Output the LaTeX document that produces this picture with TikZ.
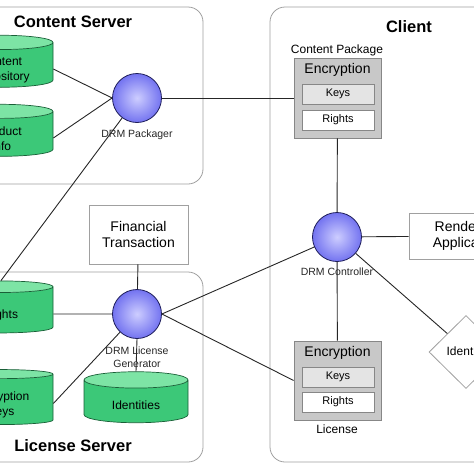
\documentclass[tikz,border=0pt]{standalone}
\usepackage{fontspec}
\setmainfont{Liberation Sans}
\usetikzlibrary{shapes.geometric,calc}
\definecolor{framegray}{RGB}{160,160,160}
\definecolor{dbbody}{RGB}{60,200,120}
\definecolor{dbtop}{RGB}{125,228,165}
\definecolor{dbedge}{RGB}{25,95,55}
\definecolor{procin}{RGB}{205,205,255}
\definecolor{procout}{RGB}{115,115,240}
\definecolor{procedge}{RGB}{30,30,90}
\definecolor{pkgfill}{RGB}{200,200,200}
\definecolor{pkgedge}{RGB}{135,135,135}
\definecolor{keyfill}{RGB}{228,228,228}
\tikzset{
server/.style={draw=framegray,line width=0.8pt,rounded corners=15pt},
title/.style={font=\fontsize{16.5}{18}\selectfont\bfseries},
database/.style={cylinder,shape border rotate=90,aspect=0.34,draw=dbedge,line width=0.7pt,
  cylinder uses custom fill,cylinder body fill=dbbody,cylinder end fill=dbtop,
  minimum width=104pt,minimum height=52pt,inner sep=0pt,align=center,
  font=\fontsize{12}{15}\selectfont},
dbtext/.style={align=center,font=\fontsize{12}{15}\selectfont,yshift=-5pt},
process/.style={circle,draw=procedge,line width=0.8pt,inner color=procin,outer color=procout,
  minimum size=49pt,inner sep=0pt},
lbl/.style={font=\fontsize{10.5}{13}\selectfont,align=center,text=black!85},
plain/.style={draw=framegray,line width=0.8pt,fill=white,align=center,
  font=\fontsize{14}{16}\selectfont,inner sep=0pt},
package/.style={draw=pkgedge,line width=0.8pt,fill=pkgfill,minimum width=87pt,minimum height=80pt},
field/.style={draw=pkgedge,line width=0.6pt,minimum width=72pt,minimum height=20pt,inner sep=0pt,
  font=\fontsize{11}{13}\selectfont},
link/.style={line width=0.9pt,draw=black!85},
}
\begin{document}
\begin{tikzpicture}[x=1pt,y=-1pt]
\useasboundingbox (0,0) rectangle (474,474);
\clip (0,0) rectangle (474,474);
% servers and client
\draw[server] (-40,7) rectangle (203,184);
\draw[server] (-40,272) rectangle (203,462);
\draw[server] (270,7) rectangle (520,462);
\node[title] (cstitle) at (73,22) {Content Server};
\node[title] (lstitle) at (73,446) {License Server};
\node[title] (cltitle) at (409,27) {Client};

% content server
\node[database,label={[dbtext]center:Content\\Repository}] (repo) at (1,65) {\phantom{Content}};
\node[database,label={[dbtext]center:Product\\Info}] (info) at (1,134) {\phantom{Product}};
\node[process] (pack) at (137,98) {};
\node[lbl] (packlbl) at (137,135) {DRM Packager};

% license server
\node[database,label={[dbtext]center:Rights}] (rights) at (1,310) {\phantom{Rights}};
\node[database,minimum height=55pt,label={[dbtext]center:Encryption\\Keys}] (keys) at (1,399.5) {\phantom{Keys}};
\node[database,minimum height=51pt,label={[dbtext,yshift=1pt]center:Identities}] (ident) at (136,401.5) {\phantom{Identities}};
\node[process] (gen) at (137,314) {};
\node[lbl] (genlbl) at (137,357.5) {DRM License\\Generator};
\node[plain,minimum width=99pt,minimum height=59pt] (fin) at (138.5,234.5) {Financial\\Transaction};

% client
\node[package] (pkg) at (337.5,98) {};
\node[font=\fontsize{14}{16}\selectfont] (pkgenc) at (337.5,70) {Encryption};
\node[field,fill=keyfill] (pkgkeys) at (338,94) {Keys};
\node[field,fill=white] (pkgrights) at (338,120) {Rights};
\node[font=\fontsize{12}{14}\selectfont] (pkglbl) at (337,50) {Content Package};
\node[process] (ctrl) at (337,237) {};
\node[lbl] (ctrllbl) at (337,272) {DRM Controller};
\node[package,minimum height=79pt] (lic) at (337.5,380.5) {};
\node[font=\fontsize{14}{16}\selectfont] (licenc) at (337.5,353) {Encryption};
\node[field,fill=keyfill] (lickeys) at (338,377) {Keys};
\node[field,fill=white] (licrights) at (338,402) {Rights};
\node[font=\fontsize{12}{14}\selectfont] (liclbl) at (337,429) {License};
\node[plain,minimum width=116pt,minimum height=46pt] (render) at (467,236) {Rendering\\Application};
\node[diamond,draw=framegray,line width=0.8pt,fill=white,minimum width=74pt,minimum height=73pt,
  inner sep=0pt,font=\fontsize{12}{14}\selectfont] (idt) at (466,352) {Identity};

% connectors
\draw[link] ($(repo.east)+(0,4)$) -- (pack.west);
\draw[link] ($(info.east)+(0,4)$) -- (pack.west);
\draw[link] (rights.top) -- (pack);
\draw[link] (pack) -- (pkg.west |- pack);
\draw[link] (pkg) -- (ctrl);
\draw[link] ($(rights.east)+(0,4)$) -- (gen.west);
\draw[link] ($(keys.east)+(0,4)$) -- (gen);
\draw[link] (fin) -- (gen);
\draw[link] (gen.south) -- (ident.top);
\draw[link] (gen.east) -- (ctrl);
\draw[link] (gen.east) -- (lic.west);
\draw[link] (ctrl) -- (lic);
\draw[link] (ctrl) -- (render);
\draw[link] (ctrl) -- (idt.north west);
\end{tikzpicture}
\end{document}
